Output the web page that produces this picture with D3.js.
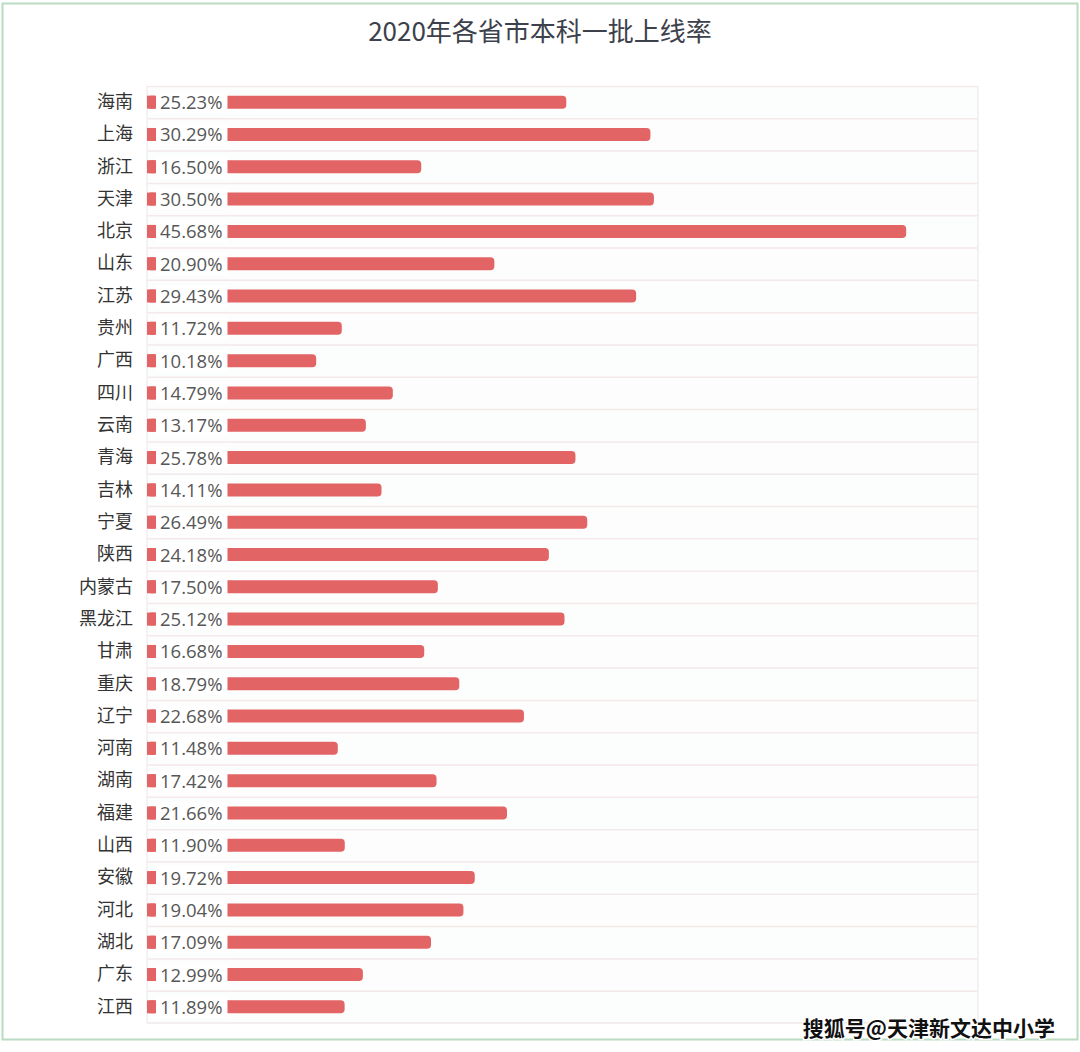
<!DOCTYPE html>
<html><head><meta charset="utf-8">
<script src="https://cdn.jsdelivr.net/npm/d3@7"></script>
<style>body{margin:0;background:#fff;}svg{display:block;font-family:"Noto Sans CJK SC","Noto Sans",sans-serif;}</style>
</head><body><svg id="c" width="1080" height="1052"></svg>
<script>
const title = "2020年各省市本科一批上线率";
const provinces = ["海南","上海","浙江","天津","北京","山东","江苏","贵州","广西","四川","云南","青海","吉林","宁夏","陕西","内蒙古","黑龙江","甘肃","重庆","辽宁","河南","湖南","福建","山西","安徽","河北","湖北","广东","江西"];
const rates = [25.23,30.29,16.50,30.50,45.68,20.90,29.43,11.72,10.18,14.79,13.17,25.78,14.11,26.49,24.18,17.50,25.12,16.68,18.79,22.68,11.48,17.42,21.66,11.90,19.72,19.04,17.09,12.99,11.89];
const watermark = "搜狐号@天津新文达中小学";

(function(){
const svg = d3.select("#c");
svg.append("rect").attr("x",2.5).attr("y",3.5).attr("width",1075).attr("height",1036)
  .attr("fill","#fff").attr("stroke","#b9dcc2").attr("stroke-width",2);

const pL=147, pR=978, pT=86, pB=1023;
const x = d3.scaleLinear().domain([0,50]).range([pL,pR]);
const y = d3.scaleBand().domain(provinces).range([pT,pB]).padding(0);

const rows = svg.append("g");
provinces.forEach((p,i)=>{
  rows.append("rect").attr("x",pL).attr("y",y(p)).attr("width",pR-pL).attr("height",y.bandwidth())
    .attr("fill", i%2===0 ? "#fcfefd" : "#fefdfd");
  rows.append("line").attr("x1",pL).attr("x2",pR).attr("y1",y(p)+0.5).attr("y2",y(p)+0.5)
    .attr("stroke","#f3e9e9").attr("stroke-width",1.5);
});
rows.append("line").attr("x1",pL).attr("x2",pR).attr("y1",pB).attr("y2",pB).attr("stroke","#f1eaea").attr("stroke-width",1.5);
rows.append("line").attr("x1",pL).attr("x2",pL).attr("y1",pT).attr("y2",pB).attr("stroke","#f1eeee").attr("stroke-width",1.5);
rows.append("line").attr("x1",pR).attr("x2",pR).attr("y1",pT).attr("y2",pB).attr("stroke","#eeeeee").attr("stroke-width",1.5);

svg.append("text").attr("x",540).attr("y",41).attr("text-anchor","middle")
  .attr("font-size",26).attr("fill","#3c414b").text(title);

const yAxis = d3.axisLeft(y).tickSize(0).tickPadding(14);
const ag = svg.append("g").attr("transform",`translate(${pL},0)`).call(yAxis);
ag.select(".domain").remove();
ag.selectAll("text").attr("font-size",18).attr("fill","#333").attr("font-family","\"Noto Sans CJK SC\",sans-serif");

const bh = 13;
const bars = svg.append("g");
provinces.forEach((p,i)=>{
  const cy = y(p)+y.bandwidth()/2;
  const w = x(rates[i])-x(0);
  bars.append("rect").attr("x",x(0)).attr("y",cy-bh/2).attr("width",w).attr("height",bh)
    .attr("rx",4).attr("fill","#e26464");
  bars.append("rect").attr("x",x(0)).attr("y",cy-bh/2).attr("width",Math.min(w,8)).attr("height",bh).attr("fill","#e26464");
  const t = bars.append("text").attr("x",x(0)+13).attr("y",cy+7).attr("font-size",18.5)
    .attr("fill","#575757").attr("font-family","\"Open Sans\",sans-serif").text(rates[i].toFixed(2)+"%");
  const bb = t.node().getBBox();
  bars.insert("rect", function(){return t.node();}).attr("x",x(0)+9).attr("y",cy-11).attr("width",bb.width+9).attr("height",22).attr("fill","#fff");
});

svg.append("text").attr("x",1055).attr("y",1036).attr("text-anchor","end").attr("font-size",21)
  .attr("font-weight","bold").attr("fill","#111").attr("stroke","#fff").attr("stroke-width",3)
  .attr("paint-order","stroke").text(watermark);
})();
</script></body></html>
